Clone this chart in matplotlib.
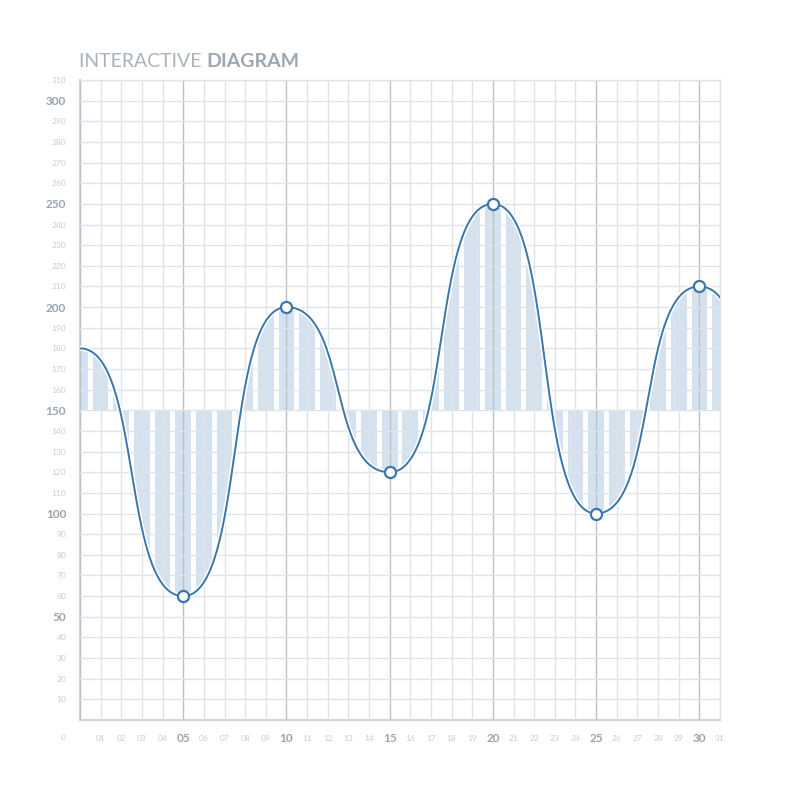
import numpy as np
import matplotlib
matplotlib.use("Agg")
import matplotlib.pyplot as plt
from matplotlib import patheffects as pe
from matplotlib.ticker import FixedLocator, FixedFormatter

# ---------------- data ----------------
# turning points of the curve (the last one lies beyond the visible range)
peak_days = [0, 5, 10, 15, 20, 25, 30, 35]
peak_values = [180, 60, 200, 120, 250, 100, 210, 100]
highlight_days = [5, 10, 15, 20, 25, 30]
days = list(range(0, 32))
baseline = 150
y_ticks = list(range(0, 320, 10))
title_light = "INTERACTIVE "
title_bold = "DIAGRAM"

# ---------------- style ----------------
FONT = "Lato"
LINE_C = "#3b76ab"
FILL_C = "#d4e2ef"
GRID_MINOR = "#e0e4e8"
GRID_MAJOR = "#b9c1c9"
LBL_MINOR = "#c8cdd3"
LBL_MAJOR = "#9ba5af"
HANDLE = 0.6  # bezier handle length as fraction of segment width

fig = plt.figure(figsize=(8, 8), dpi=100)
ax = fig.add_axes([0.1, 0.1, 0.8, 0.8])

# smooth bezier curve through the turning points (horizontal tangents)
xd, yd = [], []
t = np.linspace(0, 1, 200, endpoint=False)[:, None]
for i in range(len(peak_days) - 1):
    x0, y0, x1, y1 = peak_days[i], peak_values[i], peak_days[i + 1], peak_values[i + 1]
    h = x1 - x0
    P = np.array([[x0, y0], [x0 + HANDLE * h, y0], [x1 - HANDLE * h, y1], [x1, y1]], float)
    B = ((1 - t) ** 3) * P[0] + 3 * ((1 - t) ** 2) * t * P[1] + 3 * (1 - t) * t ** 2 * P[2] + t ** 3 * P[3]
    xd.append(B[:, 0]); yd.append(B[:, 1])
xd = np.concatenate(xd + [[peak_days[-1]]])
yd = np.concatenate(yd + [[peak_values[-1]]])

# visible part of the fill region (used as clip for striped bars)
xe = days[-1]
keep = xd < xe
xf = np.append(xd[keep], xe)
yf = np.append(yd[keep], np.interp(xe, xd, yd))
region = ax.fill_between(xf, yf, baseline, color="none", linewidth=0)
clip = region.get_paths()[0]
bars = ax.bar(days, y_ticks[-1] - y_ticks[0], bottom=y_ticks[0], width=0.76,
              color=FILL_C, linewidth=0, zorder=1)
for b in bars:
    b.set_clip_path(clip, ax.transData)

ax.plot(xd, yd, color=LINE_C, lw=1.4, zorder=4,
        path_effects=[pe.Stroke(linewidth=3.6, foreground="white"), pe.Normal()])
hv = [peak_values[peak_days.index(d)] for d in highlight_days]
ax.plot(highlight_days, hv, "o", ms=8, mfc="white", mec=LINE_C, mew=1.6, zorder=5)

ax.set_xlim(days[0], days[-1])
ax.set_ylim(y_ticks[0], y_ticks[-1])

# ticks
xmaj = [d for d in days if d % 5 == 0]
xmin = [d for d in days if d % 5 != 0]
ax.xaxis.set_major_locator(FixedLocator(xmaj))
ax.xaxis.set_minor_locator(FixedLocator(xmin))
ax.xaxis.set_major_formatter(FixedFormatter(["" if d == 0 else f"{d:02d}" for d in xmaj]))
ax.xaxis.set_minor_formatter(FixedFormatter([f"{d:02d}" for d in xmin]))
ymaj = [v for v in y_ticks if v % 50 == 0]
ymin = [v for v in y_ticks if v % 50 != 0]
ax.yaxis.set_major_locator(FixedLocator(ymaj))
ax.yaxis.set_minor_locator(FixedLocator(ymin))
ax.yaxis.set_major_formatter(FixedFormatter(["" if v == 0 else str(v) for v in ymaj]))
ax.yaxis.set_minor_formatter(FixedFormatter([str(v) for v in ymin]))

ax.tick_params(which="both", length=0)
ax.tick_params(axis="x", which="both", pad=13)
ax.tick_params(axis="y", which="both", pad=10)
for lbl in ax.get_xticklabels(which="major") + ax.get_yticklabels(which="major"):
    lbl.set_fontfamily(FONT); lbl.set_fontsize(8.5); lbl.set_fontweight("bold"); lbl.set_color(LBL_MAJOR)
for lbl in ax.get_xticklabels(which="minor") + ax.get_yticklabels(which="minor"):
    lbl.set_fontfamily(FONT); lbl.set_fontsize(6); lbl.set_color(LBL_MINOR)
for lbl in ax.get_xticklabels(which="both"):
    lbl.set_verticalalignment("center")

ax.annotate("0", xy=(0, 0), xycoords="data", xytext=(-17, -18), textcoords="offset pixels",
            ha="center", va="center", fontsize=6, color=LBL_MINOR, family=FONT)

# grid
ax.set_axisbelow(False)
ax.grid(axis="x", which="major", color=GRID_MAJOR, lw=1.0)
ax.grid(axis="x", which="minor", color=GRID_MINOR, lw=1.0)
ax.grid(axis="y", which="both", color=GRID_MINOR, lw=1.0)
for g in ax.get_xgridlines() + ax.get_ygridlines():
    g.set_zorder(2)

for s in ["top", "right"]:
    ax.spines[s].set_color(GRID_MINOR); ax.spines[s].set_linewidth(1.0)
for s in ["left", "bottom"]:
    ax.spines[s].set_color("#d0d6db"); ax.spines[s].set_linewidth(1.6)

# title
t1 = fig.text(79 / 800, 1 - 67 / 800, title_light, fontsize=14, color="#a9b3bd",
              family=FONT, fontweight="normal", ha="left", va="baseline")
fig.canvas.draw()
bb = t1.get_window_extent(fig.canvas.get_renderer())
fig.text(bb.x1 / 800, 1 - 67 / 800, title_bold, fontsize=14, color="#9ca7b2",
         family=FONT, fontweight="bold", ha="left", va="baseline")

fig.savefig("out.png", dpi=100, facecolor="white")
